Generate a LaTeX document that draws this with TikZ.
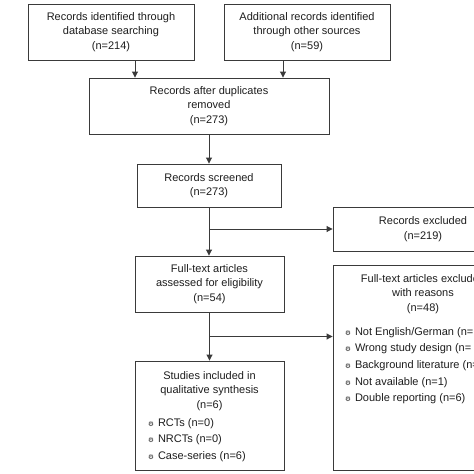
\documentclass[tikz,border=0pt]{standalone}
\usepackage{fontspec}
\setmainfont{Liberation Sans}
\newfontfamily\symfont{DejaVu Sans}
\usetikzlibrary{arrows.meta,calc}
\definecolor{lineg}{HTML}{3A3A3A}
\definecolor{textg}{HTML}{1E1E1E}
\newcommand{\pt}{{\symfont\fontsize{6.5}{6.5}\selectfont ⚙}\hspace{4pt}}
\begin{document}
\begin{tikzpicture}[x=1pt, y=-1pt,
    box/.style={draw=lineg, line width=0.9pt, inner sep=0pt},
    txt/.style={text=textg, align=center, font=\fontsize{11}{14.5}\selectfont},
    lst/.style={text=textg, align=left, font=\fontsize{11}{16.7}\selectfont, anchor=north west, inner sep=0pt},
    arr/.style={draw=lineg, line width=0.9pt, -{Triangle[length=6pt,width=6pt]}}]
    \useasboundingbox (0, 0) rectangle (474, 474);
    \clip (0, 0) rectangle (474, 474);
    \fill[white] (0, 0) rectangle (474, 474);
    % identification
    \node[box, txt, minimum width=166pt, minimum height=56pt] (db) at (111, 32)
        {Records identified through\\database searching\\(n=214)};
    \node[box, txt, minimum width=166pt, minimum height=56pt] (other) at (307, 32)
        {Additional records identified\\through other sources\\(n=59)};
    \node[box, txt, minimum width=240pt, minimum height=56pt] (dup) at (209, 106)
        {Records after duplicates\\removed\\(n=273)};
    % screening
    \node[box, txt, minimum width=144pt, minimum height=43pt] (scr) at (209, 185.5)
        {Records screened\\(n=273)};
    \node[box, txt, minimum width=180pt, minimum height=44pt] (excl) at (423, 229)
        {Records excluded\\(n=219)};
    % eligibility
    \node[box, txt, minimum width=149pt, minimum height=56pt] (ft) at (209.5, 284)
        {Full-text articles\\assessed for eligibility\\(n=54)};
    \node[box, minimum width=180pt, minimum height=205pt] (ftx) at (423, 367.5) {};
    \node[txt, anchor=north, inner sep=0pt] (ftxhead) at (423, 272)
        {\strut Full-text articles excluded\\with reasons\\(n=48)};
    \node[lst] (ftxlist) at (345, 327)
        {\pt Not English/German (n=\\
         \pt Wrong study design (n=\\
         \pt Background literature (n=\\
         \pt Not available (n=1)\\
         \pt Double reporting (n=6)};
    % included
    \node[box, minimum width=149pt, minimum height=109pt] (inc) at (209.5, 415.5) {};
    \node[txt, anchor=north, inner sep=0pt] (inchead) at (209.5, 369)
        {\strut Studies included in\\qualitative synthesis\\(n=6)};
    \node[lst] (inclist) at (148, 418)
        {\pt RCTs (n=0)\\
         \pt NRCTs (n=0)\\
         \pt Case-series (n=6)};
    % connectors
    \draw[arr] ([xshift=24pt]db.south) -- ([xshift=24pt]db.south |- dup.north);
    \draw[arr] ([xshift=-24pt]other.south) -- ([xshift=-24pt]other.south |- dup.north);
    \draw[arr] (dup.south) -- (dup.south |- scr.north);
    \draw[arr] (scr.south) -- (scr.south |- ft.north);
    \draw[arr] (scr.south |- excl.west) -- (excl.west);
    \coordinate (split) at ($(ft.south)!0.5!(inc.north)$);
    \draw[arr] (ft.south) -- (inc.north);
    \draw[arr] (split) -- (split -| ftx.west);
\end{tikzpicture}
\end{document}
